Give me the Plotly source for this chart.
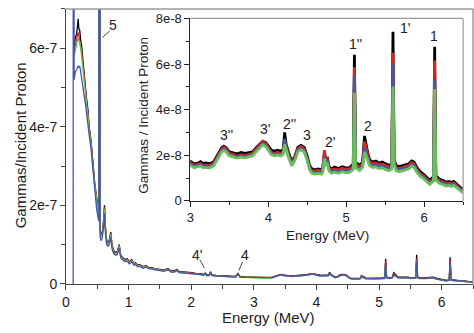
import plotly.graph_objects as go

# ---------------- data (values in units of 1e-8 gammas / incident proton) ----------------
energy = [
    0.115, 0.12, 0.13, 0.15, 0.17, 0.185, 0.195, 0.205, 0.22, 0.235,
    0.25, 0.27, 0.29, 0.31, 0.33, 0.35, 0.37, 0.40, 0.43, 0.46,
    0.49, 0.51, 0.525, 0.535, 0.545, 0.56, 0.58, 0.60, 0.615, 0.63,
    0.65, 0.67, 0.69, 0.715, 0.735, 0.76, 0.79, 0.82, 0.85, 0.875,
    0.90, 0.94, 0.98, 1.01, 1.05, 1.08, 1.11, 1.14, 1.18, 1.23,
    1.28, 1.32, 1.38, 1.44, 1.50, 1.56, 1.63, 1.68, 1.73, 1.77,
    1.81, 1.88, 1.95, 2.02, 2.08, 2.14, 2.20, 2.225, 2.25, 2.29,
    2.31, 2.33, 2.40, 2.48, 2.56, 2.64, 2.71, 2.745, 2.78, 2.85,
    2.93, 3.00, 3.05, 3.10, 3.13, 3.16, 3.20, 3.25, 3.30, 3.35,
    3.40, 3.43, 3.46, 3.50, 3.55, 3.60, 3.65, 3.70, 3.75, 3.80,
    3.85, 3.90, 3.93, 3.97, 4.00, 4.04, 4.08, 4.12, 4.16, 4.19,
    4.21, 4.23, 4.26, 4.30, 4.34, 4.38, 4.42, 4.46, 4.50, 4.53,
    4.56, 4.60, 4.64, 4.68, 4.70, 4.72, 4.74, 4.76, 4.78, 4.81,
    4.85, 4.90, 4.95, 5.00, 5.04, 5.09, 5.105, 5.12, 5.17, 5.21,
    5.235, 5.25, 5.27, 5.30, 5.34, 5.38, 5.42, 5.46, 5.50, 5.55,
    5.585, 5.60, 5.615, 5.64, 5.68, 5.72, 5.76, 5.80, 5.84, 5.87,
    5.91, 5.95, 5.99, 6.03, 6.07, 6.12, 6.135, 6.15, 6.20, 6.24,
    6.28, 6.32, 6.35, 6.38, 6.42, 6.46, 6.50,
]

black = [
    None, None, 60.5, 62.8, 63.5, 66.0, 67.5, 65.0, 64.5, 62.0,
    60.5, 57.0, 53.0, 50.5, 47.0, 44.5, 40.0, 36.5, 30.5, 25.5,
    22.0, 19.5, 18.0, 900, 14.0, 12.5, 13.0, 16.0, 20.0, 14.5,
    11.0, 10.5, 11.0, 13.2, 10.0, 8.5, 8.0, 8.2, 10.0, 7.2,
    6.8, 6.2, 6.4, 5.6, 6.2, 5.2, 5.4, 4.8, 4.9, 4.4,
    4.7, 4.2, 4.1, 3.8, 3.7, 3.5, 3.9, 3.3, 3.3, 3.7,
    3.1, 3.0, 2.9, 2.9, 2.6, 2.6, 2.4, 2.8, 2.3, 2.4,
    3.1, 2.3, 2.2, 2.1, 2.0, 2.0, 1.9, 2.7, 1.9, 1.8,
    1.75, 1.73, 1.62, 1.66, 1.72, 1.64, 1.66, 1.63, 1.72, 2.05,
    2.32, 2.40, 2.33, 2.15, 2.12, 2.06, 2.12, 2.08, 2.12, 2.15,
    2.35, 2.55, 2.62, 2.55, 2.40, 2.22, 2.18, 2.22, 2.17, 2.25,
    3.00, 2.45, 2.12, 1.72, 1.95, 2.35, 2.43, 2.35, 1.95, 1.55,
    1.40, 1.36, 1.40, 1.36, 1.45, 2.10, 1.80, 1.85, 1.50, 1.40,
    1.48, 1.42, 1.50, 1.44, 1.46, 1.60, 6.41, 1.70, 1.55, 1.70,
    2.85, 2.55, 2.20, 1.80, 1.70, 1.75, 1.65, 1.70, 1.62, 1.55,
    1.65, 7.42, 1.80, 1.55, 1.50, 1.55, 1.60, 1.62, 1.75, 1.70,
    1.45, 1.28, 1.18, 1.02, 0.90, 1.05, 6.76, 1.10, 0.95, 0.90,
    0.82, 0.85, 0.80, 0.85, 0.72, 0.62, 0.48,
]

red = [
    None, None, 59.0, 61.0, 62.0, 63.5, 64.0, 63.0, 62.5, 60.5,
    59.0, 56.0, 52.0, 49.5, 46.0, 43.5, 39.5, 36.0, 30.0, 25.0,
    21.5, 19.0, 17.5, 900, 13.5, 12.2, 12.8, 15.6, 19.5, 14.2,
    10.8, 10.2, 10.8, 12.9, 9.8, 8.3, 7.8, 8.0, 9.8, 7.0,
    6.6, 6.0, 6.2, 5.4, 6.0, 5.1, 5.2, 4.7, 4.8, 4.3,
    4.6, 4.1, 4.0, 3.7, 3.6, 3.4, 3.8, 3.2, 3.2, 3.6,
    3.0, 2.9, 2.8, 2.8, 2.5, 2.5, 2.3, 2.7, 2.2, 2.3,
    3.0, 2.2, 2.1, 2.0, 1.9, 1.9, 1.8, 2.6, 1.8, 1.7,
    1.68, 1.66, 1.56, 1.60, 1.64, 1.57, 1.58, 1.56, 1.66, 1.98,
    2.26, 2.35, 2.28, 2.08, 2.04, 1.95, 2.02, 1.98, 2.03, 2.08,
    2.30, 2.52, 2.60, 2.50, 2.32, 2.12, 2.08, 2.12, 2.08, 2.16,
    2.60, 2.35, 2.02, 1.65, 1.88, 2.30, 2.38, 2.28, 1.88, 1.48,
    1.33, 1.30, 1.33, 1.30, 1.42, 2.22, 1.75, 1.80, 1.44, 1.34,
    1.40, 1.36, 1.43, 1.38, 1.40, 1.52, 5.86, 1.62, 1.47, 1.62,
    2.60, 2.40, 2.10, 1.72, 1.62, 1.66, 1.58, 1.62, 1.55, 1.48,
    1.56, 6.50, 1.72, 1.47, 1.42, 1.47, 1.52, 1.55, 1.68, 1.62,
    1.38, 1.20, 1.10, 0.95, 0.83, 0.98, 6.16, 1.02, 0.88, 0.84,
    0.76, 0.79, 0.74, 0.79, 0.66, 0.57, 0.44,
]

blue = [
    0, 900, 52.0, 54.0, 54.5, 55.0, 55.5, 55.0, 55.5, 54.0,
    52.0, 50.0, 48.0, 46.0, 43.0, 41.0, 38.0, 34.5, 29.0, 23.5,
    19.0, 17.0, 16.0, 900, 12.0, 11.0, 11.8, 14.5, 18.0, 13.0,
    10.0, 9.6, 10.0, 12.0, 9.0, 7.8, 7.3, 7.5, 9.2, 6.6,
    6.2, 5.7, 5.8, 5.1, 5.6, 4.8, 4.9, 4.4, 4.5, 4.0,
    4.3, 3.9, 3.8, 3.5, 3.4, 3.2, 3.6, 3.0, 3.0, 3.4,
    2.85, 2.75, 2.65, 2.65, 2.4, 2.4, 2.2, 2.6, 2.1, 2.2,
    2.9, 2.1, 2.0, 1.95, 1.85, 1.85, 1.75, 2.5, 1.75, 1.65,
    1.62, 1.60, 1.50, 1.53, 1.58, 1.51, 1.52, 1.50, 1.59, 1.92,
    2.20, 2.28, 2.20, 2.02, 1.98, 1.92, 1.96, 1.93, 1.97, 2.02,
    2.22, 2.42, 2.50, 2.42, 2.26, 2.07, 2.03, 2.06, 2.02, 2.10,
    2.72, 2.28, 1.96, 1.60, 1.82, 2.22, 2.30, 2.20, 1.82, 1.42,
    1.27, 1.23, 1.26, 1.23, 1.33, 1.95, 1.65, 1.70, 1.36, 1.27,
    1.33, 1.28, 1.35, 1.30, 1.32, 1.44, 5.46, 1.54, 1.40, 1.54,
    2.35, 2.20, 1.95, 1.62, 1.54, 1.57, 1.50, 1.53, 1.46, 1.40,
    1.48, 6.00, 1.63, 1.40, 1.35, 1.39, 1.44, 1.47, 1.60, 1.54,
    1.31, 1.13, 1.04, 0.89, 0.78, 0.92, 5.32, 0.96, 0.82, 0.78,
    0.71, 0.74, 0.69, 0.74, 0.61, 0.53, 0.40,
]

green = [
    None, None, 58.0, 60.0, 61.0, 62.0, 62.5, 62.0, 61.5, 60.0,
    58.0, 55.0, 51.5, 49.0, 45.5, 43.0, 39.0, 35.5, 29.5, 24.5,
    21.0, 18.5, 17.0, 900, 13.0, 12.0, 12.5, 15.2, 19.0, 14.0,
    10.5, 10.0, 10.5, 12.6, 9.5, 8.1, 7.6, 7.8, 9.6, 6.9,
    6.5, 5.9, 6.1, 5.3, 5.9, 5.0, 5.1, 4.6, 4.7, 4.2,
    4.5, 4.0, 3.9, 3.6, 3.5, 3.3, 3.7, 3.1, 3.1, 3.5,
    2.9, 2.8, 2.7, 2.7, 2.45, 2.45, 2.25, 2.65, 2.15, 2.25,
    2.95, 2.15, 2.05, 1.95, 1.85, 1.85, 1.75, 2.5, 1.75, 1.65,
    1.58, 1.55, 1.45, 1.48, 1.53, 1.46, 1.47, 1.45, 1.54, 1.86,
    2.14, 2.22, 2.14, 1.97, 1.93, 1.88, 1.92, 1.89, 1.93, 1.98,
    2.18, 2.38, 2.46, 2.37, 2.20, 2.02, 1.98, 2.01, 1.97, 2.05,
    2.48, 2.20, 1.90, 1.54, 1.76, 2.16, 2.24, 2.14, 1.76, 1.36,
    1.21, 1.17, 1.20, 1.17, 1.27, 1.85, 1.58, 1.62, 1.30, 1.21,
    1.26, 1.21, 1.28, 1.23, 1.25, 1.37, 4.74, 1.46, 1.33, 1.47,
    2.15, 2.02, 1.82, 1.54, 1.46, 1.49, 1.42, 1.45, 1.38, 1.32,
    1.40, 5.03, 1.55, 1.33, 1.28, 1.32, 1.37, 1.40, 1.53, 1.47,
    1.24, 1.07, 0.98, 0.83, 0.72, 0.86, 4.90, 0.90, 0.76, 0.72,
    0.65, 0.68, 0.63, 0.68, 0.56, 0.48, 0.35,
]

main_yticks = [0, 20, 40, 60]
main_ylabels = ["0", "2e-7", "4e-7", "6e-7"]
inset_yticks = [0, 2, 4, 6, 8]
inset_ylabels = ["0", "2e-8", "4e-8", "6e-8", "8e-8"]

main_labels = [("5", 0.75, 66.0), ("4'", 2.09, 7.4), ("4", 2.86, 7.4)]
inset_labels = [("3''", 3.46, 2.90), ("3'", 3.96, 3.15), ("2''", 4.27, 3.38),
                ("3", 4.50, 2.90), ("2'", 4.79, 2.56), ("2", 5.28, 3.27),
                ("1''", 5.12, 6.90), ("1'", 5.75, 7.60), ("1", 6.13, 7.25)]

# ---------------- figure ----------------
W, H = 474, 333
def px(x): return x / W
def py(y): return 1 - y / H

FONT = "Liberation Sans, Arial, sans-serif"
C_BLACK, C_RED, C_BLUE, C_GREEN = "#000000", "#e0241b", "#4557ad", "#6abf5a"

fig = go.Figure()
for vals, col in [(black, C_BLACK), (red, C_RED), (green, C_GREEN), (blue, C_BLUE)]:
    fig.add_trace(go.Scatter(x=energy, y=vals, mode="lines", xaxis="x", yaxis="y",
                             line=dict(color=col, width=1.3), showlegend=False,
                             connectgaps=False, hoverinfo="skip"))
for vals, col in [(black, C_BLACK), (red, C_RED), (blue, C_BLUE), (green, C_GREEN)]:
    fig.add_trace(go.Scatter(x=energy, y=vals, mode="lines", xaxis="x2", yaxis="y2",
                             line=dict(color=col, width=2.8), showlegend=False,
                             connectgaps=False, hoverinfo="skip"))

axis_common = dict(showgrid=False, zeroline=False, showline=True, ticks="outside",
                   ticklen=5, tickwidth=1)

fig.update_layout(
    width=W, height=H, margin=dict(l=0, r=0, t=0, b=0),
    paper_bgcolor="white", plot_bgcolor="white",
    font=dict(family=FONT, color="#222"),
    xaxis=dict(**axis_common, domain=[px(62.5), px(473)], range=[0, 6.5], anchor="y",
               tickmode="linear", tick0=0, dtick=1, linecolor="#444", tickcolor="#444",
               tickfont=dict(size=14, family=FONT, color="#222"),
               minor=dict(tickmode="linear", tick0=0, dtick=0.5, ticks="outside",
                          ticklen=4, tickcolor="#444")),
    yaxis=dict(**axis_common, domain=[py(290), py(2)], range=[0, 70], anchor="x",
               tickmode="array", tickvals=main_yticks, ticktext=main_ylabels,
               linecolor="#444", tickcolor="#444",
               tickfont=dict(size=14, family=FONT, color="#222"),
               minor=dict(tickmode="linear", tick0=0, dtick=10, ticks="outside",
                          ticklen=4, tickcolor="#444")),
    xaxis2=dict(**axis_common, domain=[px(188), px(463)], range=[3, 6.5], anchor="y2",
                tickmode="linear", tick0=3, dtick=1, linecolor="#222", tickcolor="#222",
                tickfont=dict(size=13, family=FONT, color="#222"),
                minor=dict(tickmode="linear", tick0=3, dtick=0.5, ticks="outside",
                           ticklen=3, tickcolor="#222")),
    yaxis2=dict(**axis_common, domain=[py(203), py(12)], range=[0, 8], anchor="x2",
                tickmode="array", tickvals=inset_yticks, ticktext=inset_ylabels,
                linecolor="#222", tickcolor="#222",
                tickfont=dict(size=13, family=FONT, color="#222"),
                minor=dict(tickmode="linear", tick0=0, dtick=1, ticks="outside",
                           ticklen=3, tickcolor="#222")),
)

shapes = [
    # main frame (top, right)
    dict(type="line", xref="paper", yref="paper", x0=px(62), x1=px(473.5), y0=py(2), y1=py(2),
         line=dict(color="#9a9a9a", width=1.5)),
    dict(type="line", xref="paper", yref="paper", x0=px(473), x1=px(473), y0=py(290), y1=py(2),
         line=dict(color="#9a9a9a", width=1.5)),
    # inset plot frame (top, right)
    dict(type="line", xref="paper", yref="paper", x0=px(188), x1=px(463), y0=py(12), y1=py(12),
         line=dict(color="#9a9a9a", width=1.2)),
    dict(type="line", xref="paper", yref="paper", x0=px(463), x1=px(463), y0=py(203), y1=py(12),
         line=dict(color="#9a9a9a", width=1.2)),
    # leader lines
    dict(type="line", xref="x", yref="y", x0=0.58, y0=62.7, x1=0.70, y1=64.4,
         line=dict(color="#444", width=1)),
    dict(type="line", xref="x", yref="y", x0=2.14, y0=6.1, x1=2.21, y1=4.1,
         line=dict(color="#444", width=1)),
    dict(type="line", xref="x", yref="y", x0=2.82, y0=5.6, x1=2.76, y1=3.4,
         line=dict(color="#444", width=1)),
]
fig.update_layout(shapes=shapes)

ann = []
for t, x, y in main_labels:
    ann.append(dict(text=t, x=x, y=y, xref="x", yref="y", showarrow=False,
                    xanchor="center", yanchor="middle",
                    font=dict(size=14, family=FONT, color="#222")))
for t, x, y in inset_labels:
    ann.append(dict(text=t, x=x, y=y, xref="x2", yref="y2", showarrow=False,
                    xanchor="center", yanchor="middle",
                    font=dict(size=14, family=FONT, color="#222")))
# axis titles
titles = [
    ("Energy (MeV)", 267, 325.5, 0, 15),
    ("Gammas/Incident Proton", 17, 145, -90, 15),
    ("Energy (MeV)", 326, 239, 0, 13.5),
    ("Gammas / Incident Proton", 141, 113, -90, 13.5),
]
for t, x, y, ang, sz in titles:
    ann.append(dict(text=t, x=px(x), y=py(y), xref="paper", yref="paper",
                    xanchor="center", yanchor="middle", showarrow=False, borderpad=0,
                    textangle=ang, font=dict(size=sz, family=FONT, color="#222")))
fig.update_layout(annotations=ann)

fig.write_html("out.html")
